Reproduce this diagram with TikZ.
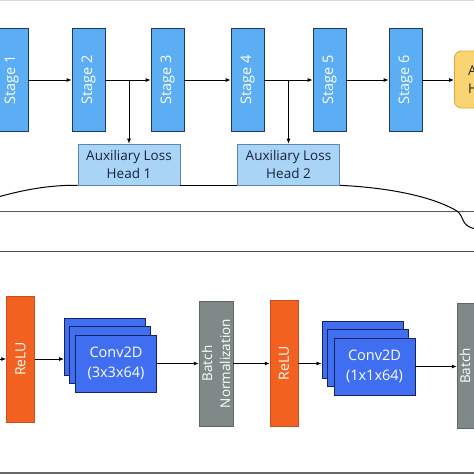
\documentclass[tikz,border=0pt]{standalone}
\usepackage{fontspec}
\setmainfont{Open Sans}
\usetikzlibrary{arrows.meta}
\definecolor{stagefill}{HTML}{5BAEF3}
\definecolor{stageedge}{HTML}{1F3A60}
\definecolor{auxfill}{HTML}{AAD4F6}
\definecolor{auxedge}{HTML}{5B86B5}
\definecolor{auxtext}{HTML}{18223F}
\definecolor{yelfill}{HTML}{F9D472}
\definecolor{yeledge}{HTML}{E2A53A}
\definecolor{relufill}{HTML}{F2611F}
\definecolor{reluedge}{HTML}{C9501C}
\definecolor{convfill}{HTML}{3F6EF0}
\definecolor{convedge}{HTML}{16245E}
\definecolor{bnfill}{HTML}{7F8A88}
\definecolor{bnedge}{HTML}{5D6664}
\begin{document}
\begin{tikzpicture}[x=1pt,y=-1pt,
  font=\fontsize{14}{16}\selectfont,
  stagebox/.style={draw=stageedge,line width=0.8pt,fill=stagefill,text=white,rotate=90,
    minimum width=103pt,minimum height=33pt,inner sep=0pt,font=\fontsize{14.5}{16}\selectfont},
  auxbox/.style={draw=auxedge,line width=0.6pt,fill=auxfill,text=auxtext,align=center,
    minimum width=102pt,minimum height=41pt,inner sep=0pt,font=\fontsize{13.5}{18}\selectfont},
  relubox/.style={draw=reluedge,line width=0.5pt,fill=relufill,text=white,rotate=90,
    minimum width=126pt,minimum height=28pt,inner sep=0pt},
  bnbox/.style={draw=bnedge,line width=0.5pt,fill=bnfill,text=white,rotate=90,align=center,
    minimum width=125pt,minimum height=34pt,inner sep=0pt,font=\fontsize{13.5}{18}\selectfont},
  convbox/.style={draw=convedge,line width=0.9pt,fill=convfill,text=white,align=center,
    minimum width=81pt,minimum height=57pt,inner sep=0pt,font=\fontsize{14.5}{20}\selectfont},
  arr/.style={-{Latex[length=5pt,width=4pt]},line width=0.8pt,black},
  ln/.style={line width=0.8pt,black}]
\clip (0,0) rectangle (474,474);
\fill[white] (0,0) rectangle (474,474);
% frame lines
\draw[line width=1.5pt,gray!30] (0,0.7) -- (474,0.7);
\fill[black!60] (0,472) rectangle (474,474);
\draw[line width=1pt,black!65] (0,211) -- (474,211);
\draw[line width=1pt,black!70] (0,251) -- (474,251);
% top row
\node[stagebox] (s1) at (11.5,80) {Stage 1};
\node[stagebox] (s2) at (88.5,80) {Stage 2};
\node[stagebox] (s3) at (167.5,80) {Stage 3};
\node[stagebox] (s4) at (247.5,80) {Stage 4};
\node[stagebox] (s5) at (329.5,80) {Stage 5};
\node[stagebox] (s6) at (405.5,80) {Stage 6};
\node[draw=yeledge,line width=0.8pt,fill=yelfill,rounded corners=7pt,anchor=west,
  minimum width=90pt,minimum height=57pt,inner sep=0pt] (hd) at (454,79.5) {};
\node[anchor=west,align=left,inner sep=0pt,text=black!85,font=\fontsize{13.5}{18}\selectfont] (hdt) at (468,80) {A\\H};
\node[auxbox] (a1) at (129,164.5) {Auxiliary Loss\\Head 1};
\node[auxbox] (a2) at (288.5,164.5) {Auxiliary Loss\\Head 2};
% curve
\draw[line width=1pt,black] (-2,197) .. controls (30,188) and (55,185) .. (a1.south west);
\draw[line width=1pt,black] (a1.south east) -- (a2.south west);
\draw[line width=1pt,black] (a2.south east) .. controls (395,188) and (435,198) .. (457,211)
  .. controls (465,217) and (460,226) .. (476,229);
\coordinate (b1) at (a1.north |- s2.center);
\coordinate (b2) at (a2.north |- s4.center);
\draw[arr] (s1) -- (s2);
\draw[arr] (s2) -- (s3);
\draw[ln] (b1) -- (s2.south |- b1);
\draw[arr] (b1) -- (a1.north);
\draw[arr] (s3) -- (s4);
\draw[arr] (s4) -- (s5);
\draw[arr] (b2) -- (a2.north);
\draw[arr] (s5) -- (s6);
\draw[arr] (s6) -- (s6 -| hd.west);
% bottom row
\coordinate (in) at (-5,359);
\node[relubox] (r1) at (20.5,359) {ReLU};
\node[convbox] (c1b) at (105,346.5) {};
\node[convbox] (c1m) at (110,355) {};
\node[convbox] (c1f) at (116,363.5) {Conv2D\\(3x3x64)};
\node[bnbox] (bn1) at (216,363.5) {Batch\\Normalization};
\node[relubox] (r2) at (284,363.5) {ReLU};
\node[convbox] (c2b) at (362.5,349.5) {};
\node[convbox] (c2m) at (367.5,358) {};
\node[convbox] (c2f) at (374.5,366.5) {Conv2D\\(1x1x64)};
\node[bnbox,minimum height=34pt] (bn2) at (474,366) {Batch\\Normalization};
\draw[arr] (in) -- (r1);
\draw[arr] (r1) -- (r1 -| c1b.west);
\draw[arr] (c1f) -- (c1f -| bn1.north);
\draw[arr] (bn1) -- (r2);
\draw[arr] (r2) -- (r2 -| c2b.west);
\draw[arr] (c2f) -- (c2f -| bn2.north);
\end{tikzpicture}
\end{document}
